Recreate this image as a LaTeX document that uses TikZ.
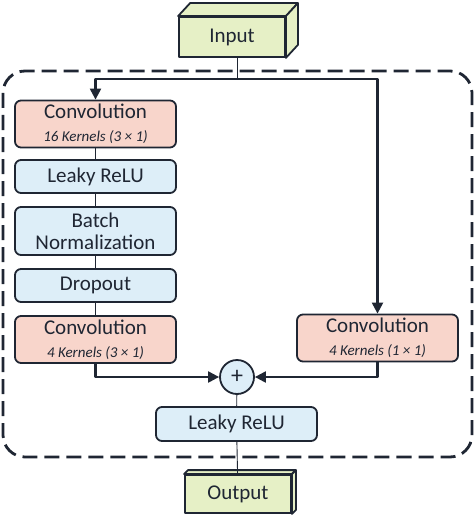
\documentclass[tikz,border=0pt]{standalone}
\usepackage{fontspec}
\setmainfont{Carlito}
\usetikzlibrary{arrows.meta}

\definecolor{edgec}{HTML}{1F2633}
\definecolor{ioc}{HTML}{E6F0C6}
\definecolor{convc}{HTML}{F8D5CB}
\definecolor{actc}{HTML}{DDEEF8}

\tikzset{
  block/.style={draw=edgec, line width=1.8pt, rounded corners=6pt, minimum width=161pt,
    align=center, text=edgec, font=\fontsize{21}{22}\selectfont, inner sep=1pt},
  convbox/.style={block, fill=convc, minimum height=47pt},
  actbox/.style={block, fill=actc, minimum height=33pt},
  iobox/.style={draw=edgec, line width=1.8pt, fill=ioc, minimum width=106pt,
    text=edgec, font=\fontsize{21}{22}\selectfont},
  flow/.style={draw=edgec, line width=2.2pt, -{Triangle[length=11pt,width=11pt]}},
  link/.style={draw=edgec, line width=0.9pt},
}

\begin{document}
\begin{tikzpicture}[x=1pt, y=-1pt, line join=round]
  \useasboundingbox (0,0) rectangle (474,516);

  % frame
  \draw[edgec, line width=2.8pt, dash pattern=on 15pt off 7pt, rounded corners=22pt]
    (3,71) rectangle (472,457);

  % input / output
  \node[iobox, minimum height=40pt] (input) at (232,37) {Input};
  \filldraw[fill=ioc, draw=edgec, line width=1.8pt]
    (input.north west) -- ++(12,-13) -- ([shift={(12,-13)}]input.north east) -- (input.north east) -- cycle;
  \filldraw[fill=ioc, draw=edgec, line width=1.8pt]
    (input.north east) -- ++(12,-13) -- ([shift={(12,-13)}]input.south east) -- (input.south east) -- cycle;

  \node[iobox, minimum height=38pt] (output) at (238,494) {Output};
  \filldraw[fill=ioc, draw=edgec, line width=1.8pt]
    (output.north west) -- ++(4,-4) -- ([shift={(4,-4)}]output.north east) -- (output.north east) -- cycle;
  \filldraw[fill=ioc, draw=edgec, line width=1.8pt]
    (output.north east) -- ++(4,-4) -- ([shift={(4,-4)}]output.south east) -- (output.south east) -- cycle;

  % main branch
  \node[convbox] (conv1) at (95.5,124) {Convolution\\[1pt]{\fontsize{15}{16}\itshape 16 Kernels (3 × 1)}};
  \node[actbox] (relu1) at (95.5,176.5) {Leaky ReLU};
  \node[block, fill=actc, minimum height=48pt] (bn) at (95.5,231) {Batch\\Normalization};
  \node[actbox] (drop) at (95.5,285.5) {Dropout};
  \node[convbox] (conv2) at (95.5,339.5) {Convolution\\[1pt]{\fontsize{15}{16}\itshape 4 Kernels (3 × 1)}};

  % shortcut
  \node[convbox] (conv3) at (377.5,338) {Convolution\\[1pt]{\fontsize{15}{16}\itshape 4 Kernels (1 × 1)}};

  % sum
  \node[circle, draw=edgec, line width=1.8pt, fill=actc, minimum size=34pt, inner sep=0pt,
    text=edgec, font=\fontsize{24}{24}\selectfont] (plus) at (237,377) {+};
  \node[actbox, minimum height=34pt] (relu2) at (236.5,424) {Leaky ReLU};

  % connectors
  \coordinate (split) at (237,79);
  \draw[link] (split |- input.south) -- (split);
  \draw[flow] (split) -| (conv1.north);
  \draw[flow] (split) -| (conv3.north);
  \draw[link] (conv1) -- (relu1);
  \draw[link] (relu1) -- (bn);
  \draw[link] (bn) -- (drop);
  \draw[link] (drop) -- (conv2);
  \draw[flow] (conv2.south) |- (plus.west);
  \draw[flow] (conv3.south) |- (plus.east);
  \draw[link] (plus) -- (relu2);
  \draw[link] (relu2) -- (output);
\end{tikzpicture}
\end{document}
